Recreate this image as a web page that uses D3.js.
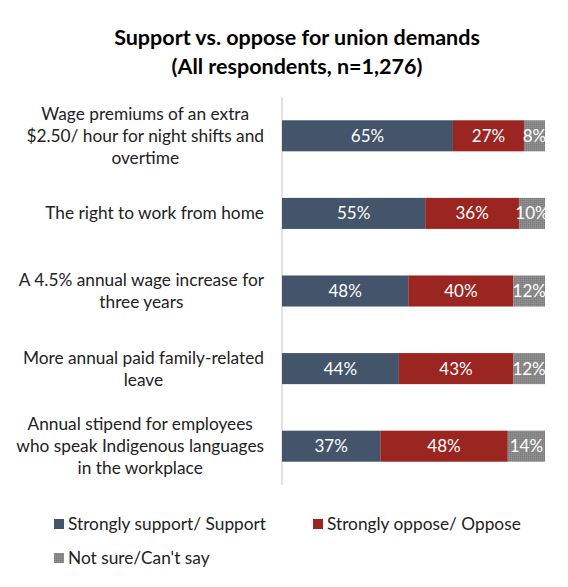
<!DOCTYPE html>
<html>
<head>
<meta charset="utf-8">
<script src="https://cdn.jsdelivr.net/npm/d3@7"></script>
<style>
  body { margin: 0; background: #fff; }
  svg text { font-family: Lato, "Liberation Sans", sans-serif; }
</style>
</head>
<body>
<svg id="mainSVG"></svg>
<script>
// chart values
var categories = [
    ["Wage premiums of an extra", "$2.50/ hour for night shifts and", "overtime"],
    ["The right to work from home"],
    ["A 4.5% annual wage increase for", "three years"],
    ["More annual paid family-related", "leave"],
    ["Annual stipend for employees", "who speak Indigenous languages", "in the workplace"]
];
var support = [65, 55, 48, 44, 37];
var oppose = [27, 36, 40, 43, 48];
var notSure = [8, 10, 12, 12, 14];
var seriesNames = ["Strongly support/ Support", "Strongly oppose/ Oppose", "Not sure/Can't say"];
var titleLines = ["Support vs. oppose for union demands", "(All respondents, n=1,276)"];

var width = 568;
var height = 587;
var colors = ["#44546a", "#9b2520", "url(#hatch)"];

var svg = d3.select("#mainSVG")
    .attr("width", width)
    .attr("height", height);

// hatched grey for the "not sure" series
var pat = svg.append("defs")
    .append("pattern")
    .attr("id", "hatch")
    .attr("patternUnits", "userSpaceOnUse")
    .attr("width", 2)
    .attr("height", 2);
pat.append("rect").attr("width", 2).attr("height", 2).attr("fill", "#878787");
pat.append("rect").attr("width", 1).attr("height", 1).attr("fill", "#7c7c7c");
pat.append("rect").attr("x", 1).attr("y", 1).attr("width", 1).attr("height", 1).attr("fill", "#939393");

// rows for the stack
var rows = categories.map(function(c, i) {
    return { id: i, s0: support[i], s1: oppose[i], s2: notSure[i] };
});
var keys = ["s0", "s1", "s2"];
var stacked = d3.stack().keys(keys).offset(d3.stackOffsetExpand)(rows);

var x = d3.scaleLinear().domain([0, 1]).range([282, 545]);
var y = d3.scaleBand()
    .domain(d3.range(categories.length))
    .range([97, 485])
    .paddingInner(0.6)
    .paddingOuter(0.3);

// title
svg.append("g")
    .selectAll("text")
    .data(titleLines)
    .enter()
    .append("text")
    .attr("x", 297)
    .attr("y", function(d, i) { return 45 + i * 29; })
    .attr("text-anchor", "middle")
    .attr("font-size", "21.5px")
    .attr("font-weight", "bold")
    .attr("fill", "#000")
    .text(function(d) { return d; });

// category axis line
svg.append("line")
    .attr("x1", x(0)).attr("x2", x(0))
    .attr("y1", 97).attr("y2", 485)
    .attr("stroke", "#d9d9d9")
    .attr("stroke-width", 1.5);

// bars
var layer = svg.append("g")
    .selectAll("g")
    .data(stacked)
    .enter()
    .append("g")
    .attr("fill", function(d, i) { return colors[i]; });

layer.selectAll("rect")
    .data(function(d) { return d; })
    .enter()
    .append("rect")
    .attr("x", function(d) { return x(d[0]); })
    .attr("y", function(d) { return y(d.data.id); })
    .attr("width", function(d) { return x(d[1]) - x(d[0]); })
    .attr("height", y.bandwidth());

// value labels
layer.selectAll("text")
    .data(function(d) {
        return d.map(function(p) { return { p: p, key: d.key }; });
    })
    .enter()
    .append("text")
    .attr("x", function(d) { return (x(d.p[0]) + x(d.p[1])) / 2; })
    .attr("y", function(d) { return y(d.p.data.id) + y.bandwidth() / 2; })
    .attr("dy", "0.35em")
    .attr("text-anchor", "middle")
    .attr("font-size", "17px")
    .attr("fill", "#fff")
    .text(function(d) { return d.p.data[d.key] + "%"; });

// category labels: block right aligned at 264, lines centred in block
var labelG = svg.append("g");
categories.forEach(function(lines, i) {
    var g = labelG.append("g");
    var lineH = 22;
    var cy = y(i) + y.bandwidth() / 2;
    var texts = g.selectAll("text")
        .data(lines)
        .enter()
        .append("text")
        .attr("font-size", "17.3px")
        .attr("fill", "#222")
        .attr("text-anchor", "middle")
        .attr("y", function(d, j) { return cy + (j - (lines.length - 1) / 2) * lineH; })
        .attr("dy", "0.35em")
        .text(function(d) { return d; });
    var maxW = d3.max(texts.nodes(), function(n) { return n.getComputedTextLength(); });
    texts.attr("x", 264 - maxW / 2);
});

// legend
var legendPos = [[54, 524], [313, 524], [54, 558]];
var legend = svg.append("g")
    .selectAll("g")
    .data(seriesNames)
    .enter()
    .append("g")
    .attr("transform", function(d, i) { return "translate(" + legendPos[i][0] + "," + legendPos[i][1] + ")"; });
legend.append("rect")
    .attr("x", 0).attr("y", -5)
    .attr("width", 10).attr("height", 10)
    .attr("fill", function(d, i) { return colors[i]; });
legend.append("text")
    .attr("x", 14)
    .attr("dy", "0.35em")
    .attr("font-size", "17.3px")
    .attr("fill", "#222")
    .text(function(d) { return d; });
</script>
</body>
</html>
